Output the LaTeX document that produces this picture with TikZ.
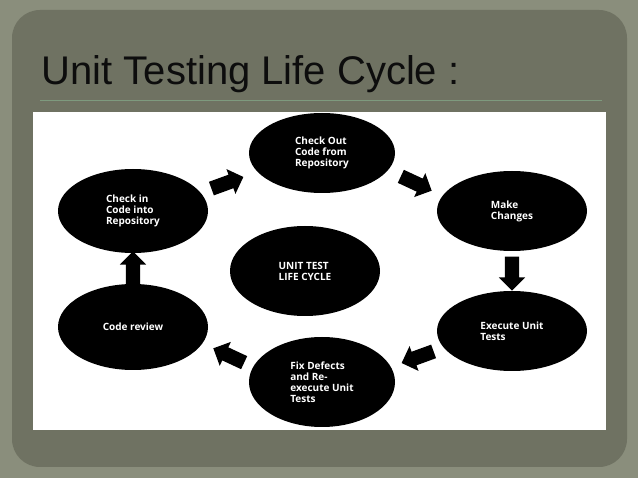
\documentclass[tikz,border=0pt]{standalone}
\usepackage{fontspec}
\setmainfont{Liberation Sans}
\newfontfamily\boxfont{Open Sans}
\usetikzlibrary{shapes.arrows,shapes.geometric,positioning}
\definecolor{outerbg}{HTML}{8A8E7C}
\definecolor{panelbg}{HTML}{6F7262}
\definecolor{rulecol}{HTML}{7E9A7E}
\begin{document}
\begin{tikzpicture}[x=1pt,y=-1pt,
	phase/.style={ellipse,fill=black,text=white,font=\boxfont\bfseries\fontsize{10}{11}\selectfont,align=left,inner sep=0pt},
	blockarrow/.style={single arrow,fill=black,minimum height=34pt,minimum width=26pt,single arrow head extend=6pt,inner xsep=2pt,inner ysep=7pt},
	]
	\fill[outerbg] (0,0) rectangle (638,478);
	\useasboundingbox (0,0) rectangle (638,478);
	\fill[panelbg,rounded corners=28pt] (12,10) rectangle (627,467);
	\node[anchor=west,font=\fontsize{40}{44}\selectfont,text=black!95] (title) at (38,74) {Unit Testing Life Cycle :};
	\draw[rulecol,line width=0.8pt] (40,100) -- (602,100);
	\fill[white] (33,112) rectangle (606,430);
	% phases
	\node[phase,minimum width=146pt,minimum height=80pt] (checkout) at (322,153) {Check Out\\Code from\\Repository};
	\node[phase,minimum width=150pt,minimum height=80pt] (make) at (512,211) {Make\\Changes};
	\node[phase,minimum width=150pt,minimum height=80pt] (exec) at (512,331) {Execute Unit\\Tests};
	\node[phase,minimum width=146pt,minimum height=90pt] (fix) at (322,382) {Fix Defects\\and Re-\\execute Unit\\Tests};
	\node[phase,minimum width=150pt,minimum height=86pt] (review) at (133,327) {Code review};
	\node[phase,minimum width=150pt,minimum height=84pt] (checkin) at (133,211) {Check in\\Code into\\Repository};
	\node[phase,minimum width=150pt,minimum height=90pt] (core) at (305,271) {UNIT TEST\\LIFE CYCLE};
	% arrows
	\node[blockarrow,rotate=20] (a1) at (224,184) {};
	\node[blockarrow,rotate=-25] (a2) at (413,182) {};
	\node[blockarrow,rotate=-90] (a3) at (512,270) {};
	\node[blockarrow,rotate=200] (a4) at (421,356) {};
	\node[blockarrow,rotate=155] (a5) at (232,357) {};
	\node[blockarrow,rotate=90] (a6) at (133,272) {};
\end{tikzpicture}
\end{document}
